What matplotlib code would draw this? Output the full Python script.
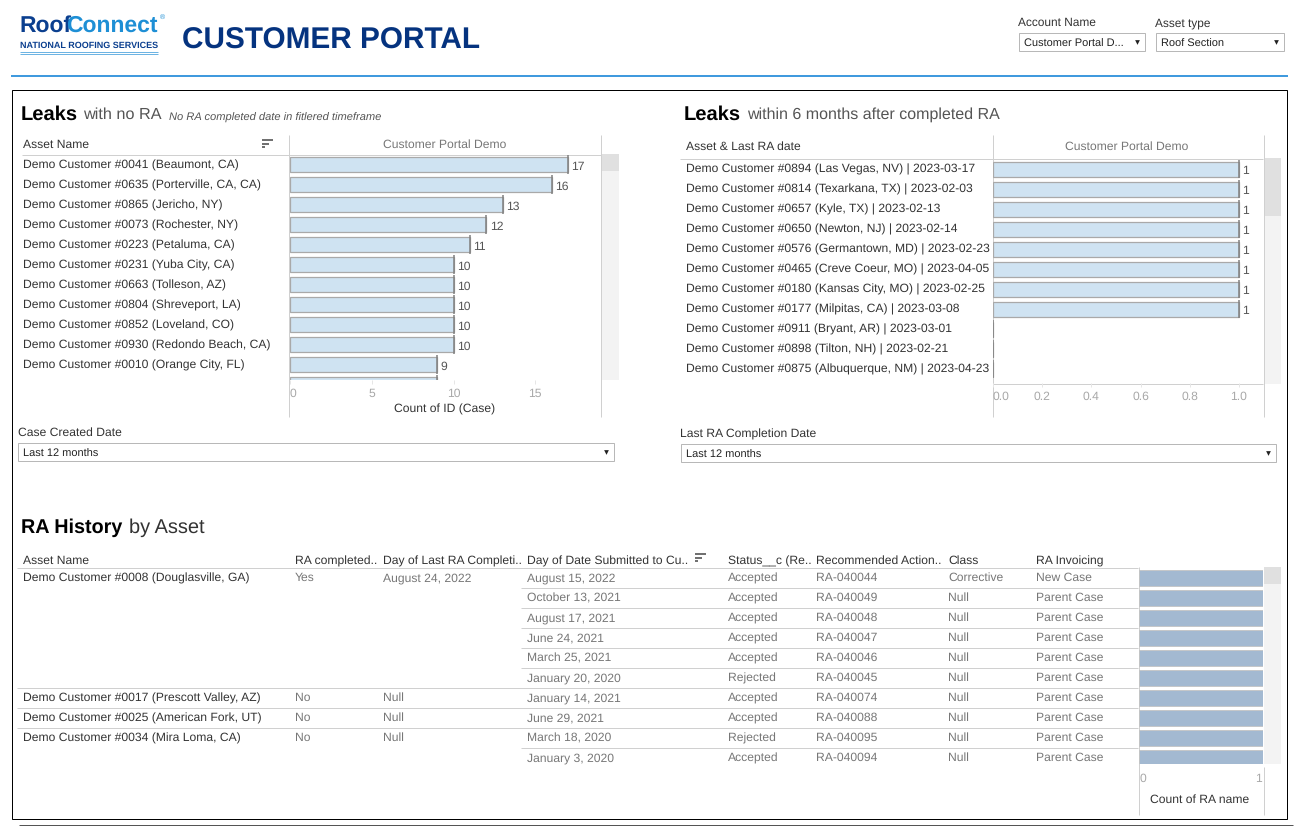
import matplotlib
matplotlib.use('Agg')
import matplotlib.pyplot as plt
from matplotlib.patches import Rectangle

plt.rcParams['font.family'] = ['Liberation Sans', 'DejaVu Sans']
plt.rcParams['text.hinting'] = 'no_hinting'

left_names = ['Demo Customer #0041 (Beaumont, CA)', 'Demo Customer #0635 (Porterville, CA, CA)',
              'Demo Customer #0865 (Jericho, NY)', 'Demo Customer #0073 (Rochester, NY)',
              'Demo Customer #0223 (Petaluma, CA)', 'Demo Customer #0231 (Yuba City, CA)',
              'Demo Customer #0663 (Tolleson, AZ)', 'Demo Customer #0804 (Shreveport, LA)',
              'Demo Customer #0852 (Loveland, CO)', 'Demo Customer #0930 (Redondo Beach, CA)',
              'Demo Customer #0010 (Orange City, FL)']
left_counts = [17, 16, 13, 12, 11, 10, 10, 10, 10, 10, 9, 9]
left_ticks = [0, 5, 10, 15]

right_names = ['Demo Customer #0894 (Las Vegas, NV) | 2023-03-17', 'Demo Customer #0814 (Texarkana, TX) | 2023-02-03',
               'Demo Customer #0657 (Kyle, TX) | 2023-02-13', 'Demo Customer #0650 (Newton, NJ) | 2023-02-14',
               'Demo Customer #0576 (Germantown, MD) | 2023-02-23', 'Demo Customer #0465 (Creve Coeur, MO) | 2023-04-05',
               'Demo Customer #0180 (Kansas City, MO) | 2023-02-25', 'Demo Customer #0177 (Milpitas, CA) | 2023-03-08',
               'Demo Customer #0911 (Bryant, AR) | 2023-03-01', 'Demo Customer #0898 (Tilton, NH) | 2023-02-21',
               'Demo Customer #0875 (Albuquerque, NM) | 2023-04-23']
right_counts = [1, 1, 1, 1, 1, 1, 1, 1, 0, 0, 0]
right_ticks = [0.0, 0.2, 0.4, 0.6, 0.8, 1.0]

table_headers = ['Asset Name', 'RA completed..', 'Day of Last RA Completi..', 'Day of Date Submitted to Cu..',
                 'Status__c (Re..', 'Recommended Action..', 'Class', 'RA Invoicing']
asset_rows = [(0, 'Demo Customer #0008 (Douglasville, GA)', 'Yes', 'August 24, 2022'),
              (6, 'Demo Customer #0017 (Prescott Valley, AZ)', 'No', 'Null'),
              (7, 'Demo Customer #0025 (American Fork, UT)', 'No', 'Null'),
              (8, 'Demo Customer #0034 (Mira Loma, CA)', 'No', 'Null')]
submitted = ['August 15, 2022', 'October 13, 2021', 'August 17, 2021', 'June 24, 2021', 'March 25, 2021',
             'January 20, 2020', 'January 14, 2021', 'June 29, 2021', 'March 18, 2020', 'January 3, 2020']
status = ['Accepted', 'Accepted', 'Accepted', 'Accepted', 'Accepted', 'Rejected', 'Accepted', 'Accepted',
          'Rejected', 'Accepted']
ra_ids = ['RA-040044', 'RA-040049', 'RA-040048', 'RA-040047', 'RA-040046', 'RA-040045', 'RA-040074', 'RA-040088',
          'RA-040095', 'RA-040094']
ra_class = ['Corrective', 'Null', 'Null', 'Null', 'Null', 'Null', 'Null', 'Null', 'Null', 'Null']
invoicing = ['New Case', 'Parent Case', 'Parent Case', 'Parent Case', 'Parent Case', 'Parent Case', 'Parent Case',
             'Parent Case', 'Parent Case', 'Parent Case']
ra_counts = [1, 1, 1, 1, 1, 1, 1, 1, 1, 1]

W, H = 1300, 826
DARK = '#333333'
GREY = '#777777'
LINE = '#d0d0d0'
FS = 8.7
PX = 0.72  # one pixel in points

fig = plt.figure(figsize=(W / 100, H / 100), dpi=100, facecolor='white')

# whole-figure layer in pixel coordinates for the dashboard furniture
bg = fig.add_axes([0, 0, 1, 1])
bg.set_xlim(0, W)
bg.set_ylim(H, 0)
bg.axis('off')


def txt(x, y, s, size=FS, color=DARK, **kw):
    kw.setdefault('va', 'center')
    return bg.text(x, y + 3, s, fontsize=size, color=color, **kw)


def hline(x0, x1, y, color=LINE, lw=PX):
    bg.plot([x0, x1], [y - 0.5, y - 0.5], color=color, lw=lw, solid_capstyle='butt')


def vline(x, y0, y1, color=LINE, lw=PX):
    bg.plot([x - 1, x - 1], [y0, y1], color=color, lw=lw, solid_capstyle='butt')


def box(x, y, w, h, fc='none', ec='none', lw=PX):
    bg.add_patch(Rectangle((x, y), w, h, facecolor=fc, edgecolor=ec, linewidth=lw))


def dropdown(x0, x1, y0, y1, s):
    box(x0, y0, x1 - x0 - 1, y1 - y0 - 0.5, fc='white', ec='#b8b8b8')
    txt(x0 + 5, (y0 + y1) / 2 - 1, s, size=7.9, color='#222222')
    bg.plot([x1 - 9], [(y0 + y1) / 2 - 0.5], marker='v', ms=3.4, mew=0, color='#222222', ls='none')


def sort_icon(x, y):
    for i, w in enumerate([11, 7, 3]):
        bg.plot([x, x + w], [y + i * 3.6, y + i * 3.6], color='#555555', lw=1.2, solid_capstyle='butt')


def bar_panel(x0, x1, y0, y1, values, xmax, ticks, n_rows, fmt, tick_y, zero_shift):
    # one real axes per bar chart, rows are 20 px tall
    ax = fig.add_axes([x0 / W, 1 - y1 / H, (x1 - x0) / W, (y1 - y0) / H])
    ax.patch.set_alpha(0)
    ax.set_xlim(0, xmax)
    ax.set_ylim(n_rows - 0.5, -0.5)
    pos = list(range(len(values)))
    ax.barh(pos, values, height=0.75, color='#cfe3f2', edgecolor='#a9a9a9', linewidth=0.9)
    ax.vlines(values, [p - 0.47 for p in pos], [p + 0.47 for p in pos], color='#808080', lw=1.1)
    for p, v in zip(pos, values):
        if v > 0:
            ax.annotate(str(v), (v, p), xytext=(2.5, -1.5), textcoords='offset points', va='center',
                        fontsize=FS, color='#555555', annotation_clip=True, clip_on=True)
    for s in ax.spines.values():
        s.set_visible(False)
    ax.set_yticks([])
    ax.set_xticks(ticks)
    ax.set_xticklabels([])
    ax.tick_params(axis='x', length=3, width=PX, color='#e6e6e6', direction='out')
    for t in ticks:
        px = x0 + (x1 - x0) * t / xmax
        lx = px + zero_shift if t == 0 else px
        txt(lx, tick_y, fmt(t), color='#a8a8a8', ha='center')
    return ax


# header
txt(19, 23, 'Roof', size=16.5, color='#0b3f8f', weight='bold')
txt(66.5, 23, 'Connect', size=16.5, color='#1e8fd5', weight='bold')
txt(160, 14, '®', size=5, color='#1e8fd5')
txt(20, 42.5, 'NATIONAL ROOFING SERVICES', size=6.5, color='#0b3f8f', weight='bold')
hline(20, 158, 52, color='#6db4e3')
hline(20, 158, 54.5, color='#6db4e3')
txt(182, 38, 'CUSTOMER PORTAL', size=21.4, color='#05337f', weight='bold')
txt(1018, 20, 'Account Name', size=8.6)
txt(1155, 20, 'Asset type', size=8.6)
dropdown(1019, 1146, 33, 51, 'Customer Portal D...')
dropdown(1156, 1285, 33, 51, 'Roof Section')
hline(11, 1288, 76, color='#1a86d8', lw=1.2)
box(12, 90, 1275, 729, ec='black')
bg.plot([19, 1293], [824.8, 824.8], color='#555555', lw=PX, solid_capstyle='butt')

# left panel
txt(21, 112, 'Leaks', size=14.5, color='black', weight='bold')
txt(83, 112, 'with no RA', size=11.7, color='#555555')
txt(169, 115, 'No RA completed date in fitlered timeframe', size=8.0, color='#555555', style='italic')
txt(23, 142, 'Asset Name')
sort_icon(262, 140)
txt(445, 142, 'Customer Portal Demo', color=GREY, ha='center')
box(602, 154, 17, 226, fc='#f3f3f3')
box(602, 154, 17, 17, fc='#e0e0e0')
hline(22, 601, 155)
vline(290, 135, 417)
vline(602, 135, 417)
for i, name in enumerate(left_names):
    txt(23, 162 + 20 * i, name)
bar_panel(290, 601, 154.5, 380, left_counts, 311 / 16.35, left_ticks, 11.275, str, 391, 3)
txt(445, 406, 'Count of ID (Case)', ha='center')
txt(18, 430, 'Case Created Date')
dropdown(18, 615, 443, 461, 'Last 12 months')

# right panel
txt(684, 112, 'Leaks', size=14.5, color='black', weight='bold')
txt(747, 112, 'within 6 months after completed RA', size=11.5, color='#555555')
txt(686, 144, 'Asset & Last RA date')
txt(1127, 144, 'Customer Portal Demo', color=GREY, ha='center')
box(1264, 158, 17, 226, fc='#f3f3f3')
box(1264, 158, 17, 58, fc='#e0e0e0')
hline(680, 1263, 159)
hline(993, 1263, 384)
vline(993.5, 135, 417)
vline(1264.5, 135, 417)
for i, name in enumerate(right_names):
    txt(686, 166 + 20 * i, name)
bar_panel(993, 1263, 159, 383, right_counts, 270 / 246, right_ticks, 11.2, lambda v: f'{v:.1f}', 394, 8)
txt(680, 431, 'Last RA Completion Date')
dropdown(681, 1277, 444, 462, 'Last 12 months')

# history table
txt(21, 525, 'RA History', size=14.2, color='black', weight='bold')
txt(129, 525, 'by Asset', size=14.4, color='#333333')
col_x = [23, 295, 383, 527, 728, 816, 948, 1036]
for x, head in zip(col_x, table_headers):
    txt(x, 558, head)
sort_icon(695, 554)
hline(17, 1138, 568)
box(1264, 567, 17, 197, fc='#f3f3f3')
box(1264, 567, 17, 17, fc='#e0e0e0')
for row, name, done, last in asset_rows:
    y = 575 + 20 * row
    txt(23, y, name)
    txt(295, y, done, color=GREY)
    txt(383, y, last, color=GREY)
for i in range(len(submitted)):
    y = 575 + 20 * i
    txt(527, y, submitted[i], color=GREY)
    txt(728, y, status[i], color=GREY)
    txt(816, y, ra_ids[i], color=GREY)
    txt(948, y, ra_class[i], color=GREY)
    txt(1036, y, invoicing[i], color=GREY)
    if i < len(submitted) - 1:
        full = i + 1 in (6, 7, 8)
        hline(17 if full else 521, 1138, y + 13)
vline(1139.5, 567, 815)
vline(1264.5, 767, 815)

ax3 = fig.add_axes([1139 / W, 1 - 764 / H, 124 / W, 196 / H])
ax3.patch.set_alpha(0)
ax3.set_xlim(0, 1)
ax3.set_ylim(9.3, -0.5)
ax3.barh(range(len(ra_counts)), ra_counts, height=0.78, color='#a3b9d1', edgecolor='#c4c4c4', linewidth=0.6)
for s in ax3.spines.values():
    s.set_visible(False)
ax3.set_xticks([])
ax3.set_yticks([])
txt(1143, 776, '0', color='#a8a8a8', ha='center')
txt(1258, 776, '1', color='#a8a8a8', ha='center')
txt(1200, 797, 'Count of RA name', ha='center')

fig.savefig('out.png', dpi=100)
